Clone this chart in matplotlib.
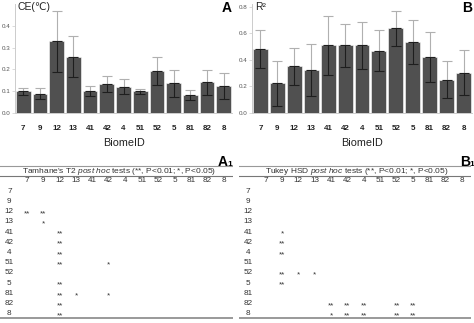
import matplotlib
matplotlib.use("Agg")
import matplotlib.pyplot as plt
import numpy as np

plt.rcParams["font.family"] = ["Liberation Sans", "DejaVu Sans"]
plt.rcParams["mathtext.fontset"] = "custom"
plt.rcParams["mathtext.rm"] = "Liberation Sans"
plt.rcParams["mathtext.it"] = "Liberation Sans:italic"

# biome order shared by every panel
biomes = ["7", "9", "12", "13", "41", "42", "4", "51", "52", "5", "81", "82", "8"]

# panel A: CE (degC) mean and error
ce_mean = [0.100, 0.089, 0.329, 0.259, 0.099, 0.133, 0.121, 0.099, 0.193, 0.136, 0.083, 0.141, 0.125]
ce_err = [0.016, 0.024, 0.140, 0.094, 0.023, 0.035, 0.034, 0.011, 0.066, 0.063, 0.022, 0.058, 0.059]

# panel B: R2 mean and error
r2_mean = [0.479, 0.223, 0.351, 0.326, 0.508, 0.508, 0.508, 0.469, 0.636, 0.533, 0.423, 0.251, 0.303]
r2_err = [0.144, 0.170, 0.140, 0.195, 0.220, 0.160, 0.180, 0.155, 0.135, 0.165, 0.190, 0.137, 0.170]

# post hoc significance: (row biome, column biome, mark)
tamhane_marks = [
    ("12", "7", "**"), ("12", "9", "**"), ("13", "9", "*"),
    ("41", "12", "**"), ("42", "12", "**"), ("4", "12", "**"),
    ("51", "12", "**"), ("51", "42", "*"), ("5", "12", "**"),
    ("81", "12", "**"), ("81", "13", "*"), ("81", "42", "*"),
    ("82", "12", "**"), ("8", "12", "**"),
]
tukey_marks = [
    ("41", "9", "*"), ("42", "9", "**"), ("4", "9", "**"),
    ("52", "9", "**"), ("52", "12", "*"), ("52", "13", "*"),
    ("5", "9", "**"),
    ("82", "41", "**"), ("82", "42", "**"), ("82", "4", "**"),
    ("82", "52", "**"), ("82", "5", "**"),
    ("8", "41", "*"), ("8", "42", "**"), ("8", "4", "**"),
    ("8", "52", "**"), ("8", "5", "**"),
]

W, H = 474, 323
fig = plt.figure(figsize=(W / 100, H / 100), dpi=100)


def px_axes(left, top, right, bottom):
    return fig.add_axes([left / W, 1 - bottom / H, (right - left) / W, (bottom - top) / H])


def bar_panel(ax, means, errs, ymax, yticks, ylabel):
    x = np.arange(len(biomes))
    means = np.array(means)
    errs = np.array(errs)
    ax.bar(x, means, width=0.88, color="#505050", edgecolor="white", linewidth=0.4, zorder=2)
    # upper whisker light grey, lower part dark inside the bar
    ax.errorbar(x, means, yerr=[np.zeros_like(errs), errs], fmt="none",
                ecolor="#b0b0b0", elinewidth=0.8, capsize=3.5, capthick=0.8, zorder=3)
    ax.errorbar(x, means, yerr=[errs, np.zeros_like(errs)], fmt="none",
                ecolor="#1e1e1e", elinewidth=0.8, capsize=3.5, capthick=0.8, zorder=3)
    ax.set_xlim(-0.5, len(biomes) - 0.5)
    ax.set_ylim(0, ymax)
    ax.set_yticks(yticks)
    ax.set_yticklabels([f"{t:.1f}" for t in yticks])
    ax.set_xticks(x)
    ax.set_xticklabels(biomes, fontweight="bold", fontsize=5.8)
    ax.tick_params(axis="x", length=0, pad=9, colors="#222222")
    ax.tick_params(axis="y", length=2, width=0.5, pad=1.5, labelsize=4.5,
                   colors="#cccccc", labelcolor="#555555")
    for s in ("top", "right"):
        ax.spines[s].set_visible(False)
    for s in ("left", "bottom"):
        ax.spines[s].set_color("#cccccc")
        ax.spines[s].set_linewidth(0.7)
    ax.set_xlabel("BiomeID", fontsize=7.8, labelpad=4, color="#222222")
    ax.text(0.012, 0.97, ylabel, transform=ax.transAxes, fontsize=7.5,
            ha="left", va="center", color="#222222")


axA = px_axes(15, 4, 232, 113)
bar_panel(axA, ce_mean, ce_err, 0.5, [0.0, 0.1, 0.2, 0.3, 0.4], "CE(℃)")
axB = px_axes(252, 4, 472, 113)
bar_panel(axB, r2_mean, r2_err, 0.82, [0.0, 0.2, 0.4, 0.6, 0.8], "R²")

fig.text(227 / W, 1 - 7.5 / H, "A", fontsize=10, fontweight="bold", ha="center", va="center")
fig.text(467 / W, 1 - 7.5 / H, "B", fontsize=10, fontweight="bold", ha="center", va="center")


def sig_table(ax, marks, title):
    n = len(biomes)
    ax.set_xlim(-1.62, 12.55)
    ax.set_ylim(12.45, -2.5)
    ax.axis("off")
    ax.axhline(-2.42, color="#999999", lw=0.8)
    ax.axhline(-1.45, color="#777777", lw=0.8)
    ax.axhline(12.35, color="#999999", lw=1.4)
    ax.text((n - 1) / 2 - 0.4, -1.93, title, fontsize=6.0, ha="center", va="center",
            color="#333333")
    for i, b in enumerate(biomes):
        ax.text(i, -1, b, fontsize=5.9, ha="center", va="center", color="#333333")
        ax.text(-1.05, i, b, fontsize=5.9, ha="center", va="center", color="#333333")
    for r, c, m in marks:
        ax.text(biomes.index(c), biomes.index(r) + 0.2, m, fontsize=5.8, ha="center",
                va="center", color="#333333")


axA1 = px_axes(0, 165.4, 233, 318.6)
sig_table(axA1, tamhane_marks,
          r"Tamhane's T2 $\it{post\ hoc}$ tests (**, P<0.01; *, P<0.05)")
axB1 = px_axes(239, 165.4, 471, 318.6)
sig_table(axB1, tukey_marks,
          r"Tukey HSD $\it{post\ hoc}$ tests (**, P<0.01; *, P<0.05)")

fig.text(223 / W, 1 - 162 / H, "A", fontsize=10, fontweight="bold", ha="center", va="center")
fig.text(230 / W, 1 - 165 / H, "1", fontsize=6, fontweight="bold", ha="center", va="center")
fig.text(465 / W, 1 - 162 / H, "B", fontsize=10, fontweight="bold", ha="center", va="center")
fig.text(471.5 / W, 1 - 165 / H, "1", fontsize=6, fontweight="bold", ha="center", va="center")

fig.savefig("out.png", dpi=100)
